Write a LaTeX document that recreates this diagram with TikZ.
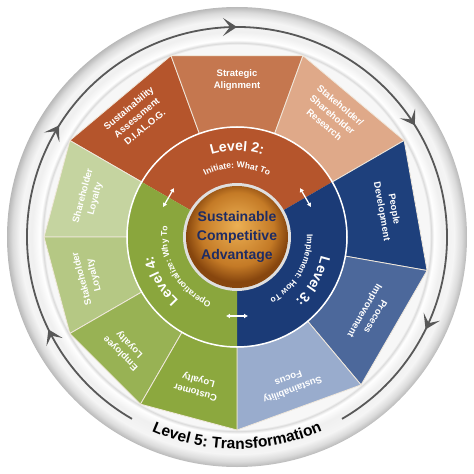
\documentclass[tikz,border=0pt]{standalone}
\usepackage{fontspec}
\setmainfont{Liberation Sans}
\setsansfont{Liberation Sans}
\usetikzlibrary{arrows.meta, decorations.markings, decorations.text}

\definecolor{lvltwo}{RGB}{181,85,44}
\definecolor{strat}{RGB}{197,119,79}
\definecolor{stakeres}{RGB}{223,169,137}
\definecolor{lvlthree}{RGB}{27,59,119}
\definecolor{people}{RGB}{30,64,124}
\definecolor{process}{RGB}{76,104,155}
\definecolor{focus}{RGB}{153,172,205}
\definecolor{lvlfour}{RGB}{138,166,61}
\definecolor{customer}{RGB}{140,168,62}
\definecolor{employee}{RGB}{152,178,84}
\definecolor{stakeloy}{RGB}{181,200,132}
\definecolor{shareloy}{RGB}{197,212,160}
\definecolor{segline}{RGB}{240,232,220}
\definecolor{ringdark}{RGB}{88,88,88}
\definecolor{navytext}{RGB}{30,44,100}
\definecolor{goldlight}{RGB}{236,176,84}
\definecolor{goldmid}{RGB}{196,122,38}
\definecolor{golddark}{RGB}{135,70,14}

\pgfdeclareradialshading{silverring}{\pgfpoint{0bp}{0bp}}{%
  color(0bp)=(gray!6); color(20.9bp)=(gray!6); color(21.1bp)=(gray!28);
  color(21.4bp)=(white); color(22.3bp)=(gray!12); color(23.6bp)=(gray!8);
  color(24.4bp)=(gray!28); color(25bp)=(gray!55); color(50bp)=(gray!55)}
\pgfdeclareradialshading{goldball}{\pgfpoint{0bp}{6bp}}{%
  color(0bp)=(goldlight); color(18bp)=(goldmid); color(25bp)=(golddark);
  color(50bp)=(golddark)}

\begin{document}
\begin{tikzpicture}[x=1pt, y=1pt, font=\sffamily\bfseries]

  % Styles
  \tikzset{
    segment/.style={draw=segline, line width=0.8pt},
    seglabel/.style={text=white, align=center,
      font=\sffamily\bfseries\fontsize{9.5}{12.5}\selectfont},
    coretext/.style={text=navytext, align=center,
      font=\sffamily\bfseries\fontsize{14}{19}\selectfont},
    linkarrow/.style={white, line width=1.3pt,
      {Latex[length=4pt,width=5pt]}-{Latex[length=4pt,width=5pt]}},
    ringline/.style={draw=ringdark, line width=1.8pt, postaction={decorate},
      decoration={markings,
        mark=at position 0.113 with {\arrow{Stealth[length=14pt,width=18pt,inset=7pt]}},
        mark=at position 0.307 with {\arrow{Stealth[length=14pt,width=18pt,inset=7pt]}},
        mark=at position 0.5 with {\arrow{Stealth[length=14pt,width=18pt,inset=7pt]}},
        mark=at position 0.693 with {\arrow{Stealth[length=14pt,width=18pt,inset=7pt]}},
        mark=at position 0.887 with {\arrow{Stealth[length=14pt,width=18pt,inset=7pt]}}}}
  }

  \useasboundingbox (-237,-237) rectangle (237,237);

%% Level 5: silver ring
  \shade[shading=silverring] (0,0) circle[radius=230];
  \draw[ringline] (240:210) arc[start angle=240, end angle=-60, radius=210];
  \path[decorate, decoration={text along path, text align=center,
      text={|\sffamily\bfseries\fontsize{15.5}{16}\selectfont|Level 5: Transformation}}]
    (236:212) arc[start angle=236, end angle=304, radius=212];

%% Level 2 segments
  \path[segment, fill=lvltwo] (150:110) -- (150:193) -- (110:193) -- (110:110)
    arc[start angle=110, end angle=150, radius=110] -- cycle;
  \path[segment, fill=strat] (110:110) -- (110:193) -- (70:193) -- (70:110)
    arc[start angle=70, end angle=110, radius=110] -- cycle;
  \path[segment, fill=stakeres] (70:110) -- (70:193) -- (30:193) -- (30:110)
    arc[start angle=30, end angle=70, radius=110] -- cycle;

  \node[seglabel, rotate=40] (assess) at (130:156) {Sustainability\\Assessment\\D.I.AL.O.G.};
  \node[seglabel] (align) at (90:157) {Strategic\\Alignment};
  \node[seglabel, rotate=-40] (research) at (52:155) {Stakeholder/\\Shareholder\\Research};

%% Level 3 segments
  \path[segment, fill=people] (30:110) -- (30:193) -- (-10:193) -- (-10:110)
    arc[start angle=-10, end angle=30, radius=110] -- cycle;
  \path[segment, fill=process] (-10:110) -- (-10:193) -- (-50:193) -- (-50:110)
    arc[start angle=-50, end angle=-10, radius=110] -- cycle;
  \path[segment, fill=focus] (-50:110) -- (-50:193) -- (-90:193) -- (-90:110)
    arc[start angle=-90, end angle=-50, radius=110] -- cycle;

  \node[seglabel, rotate=-80] (peopledev) at (10:153) {People\\Development};
  \node[seglabel, rotate=-120] (improve) at (-30:153) {Process\\Improvement};
  \node[seglabel, rotate=-160] (susfocus) at (-70:157) {Sustainability\\Focus};

%% Level 4 segments
  \path[segment, fill=shareloy] (150:110) -- (150:193) -- (180:193) -- (180:110)
    arc[start angle=180, end angle=150, radius=110] -- cycle;
  \path[segment, fill=stakeloy] (180:110) -- (180:193) -- (210:193) -- (210:110)
    arc[start angle=210, end angle=180, radius=110] -- cycle;
  \path[segment, fill=employee] (210:110) -- (210:193) -- (240:193) -- (240:110)
    arc[start angle=240, end angle=210, radius=110] -- cycle;
  \path[segment, fill=customer] (240:110) -- (240:193) -- (270:193) -- (270:110)
    arc[start angle=270, end angle=240, radius=110] -- cycle;

  \node[seglabel, rotate=75] (shareholder) at (165:153) {Shareholder\\Loyalty};
  \node[seglabel, rotate=105] (stakeholder) at (195:154) {Stakeholder\\Loyalty};
  \node[seglabel, rotate=135] (employee) at (225:158) {Employee\\Loyalty};
  \node[seglabel, rotate=165] (customer) at (255:154) {Customer\\Loyalty};

%% Inner ring: levels 2 to 4
  \fill[lvltwo] (0,0) -- (30:110) arc[start angle=30, end angle=150, radius=110] -- cycle;
  \fill[lvlthree] (0,0) -- (-90:110) arc[start angle=-90, end angle=30, radius=110] -- cycle;
  \fill[lvlfour] (0,0) -- (150:110) arc[start angle=150, end angle=270, radius=110] -- cycle;
  \draw[white, line width=1.5pt] (0,0) circle[radius=110];

  % Level titles
  \path[decorate, decoration={text along path, text align=center,
      text={|\color{white}\sffamily\bfseries\fontsize{14}{14}\selectfont|Level 2:}}]
    (150:86) arc[start angle=150, end angle=30, radius=86];
  \path[decorate, decoration={text along path, text align=center,
      text={|\color{white}\sffamily\bfseries\fontsize{8.5}{9}\selectfont|Initiate: What To}}]
    (150:69) arc[start angle=150, end angle=30, radius=69];
  \path[decorate, decoration={text along path, text align=center,
      text={|\color{white}\sffamily\bfseries\fontsize{14}{14}\selectfont|Level 3:}}]
    (30:86) arc[start angle=30, end angle=-90, radius=86];
  \path[decorate, decoration={text along path, text align=center,
      text={|\color{white}\sffamily\bfseries\fontsize{8.5}{9}\selectfont|Implement: How To}}]
    (30:70) arc[start angle=30, end angle=-90, radius=70];
  \path[decorate, decoration={text along path, text align=center,
      text={|\color{white}\sffamily\bfseries\fontsize{14}{14}\selectfont|Level 4:}}]
    (270:86) arc[start angle=270, end angle=150, radius=86];
  \path[decorate, decoration={text along path, text align=center,
      text={|\color{white}\sffamily\bfseries\fontsize{8.5}{9}\selectfont|Operationalize: Why To}}]
    (270:70) arc[start angle=270, end angle=150, radius=70];

  % Links between levels
  \foreach \a in {30,150,270}
    \draw[linkarrow] (\a:79) ++(\a+90:11) -- ++(\a-90:22);

%% Core: sustainable competitive advantage
  \fill[gray!25] (0,0) circle[radius=54];
  \shade[shading=goldball] (0,0) circle[radius=51];
  \node[coretext] (core) at (0,0) {Sustainable\\Competitive\\Advantage};

\end{tikzpicture}
\end{document}
